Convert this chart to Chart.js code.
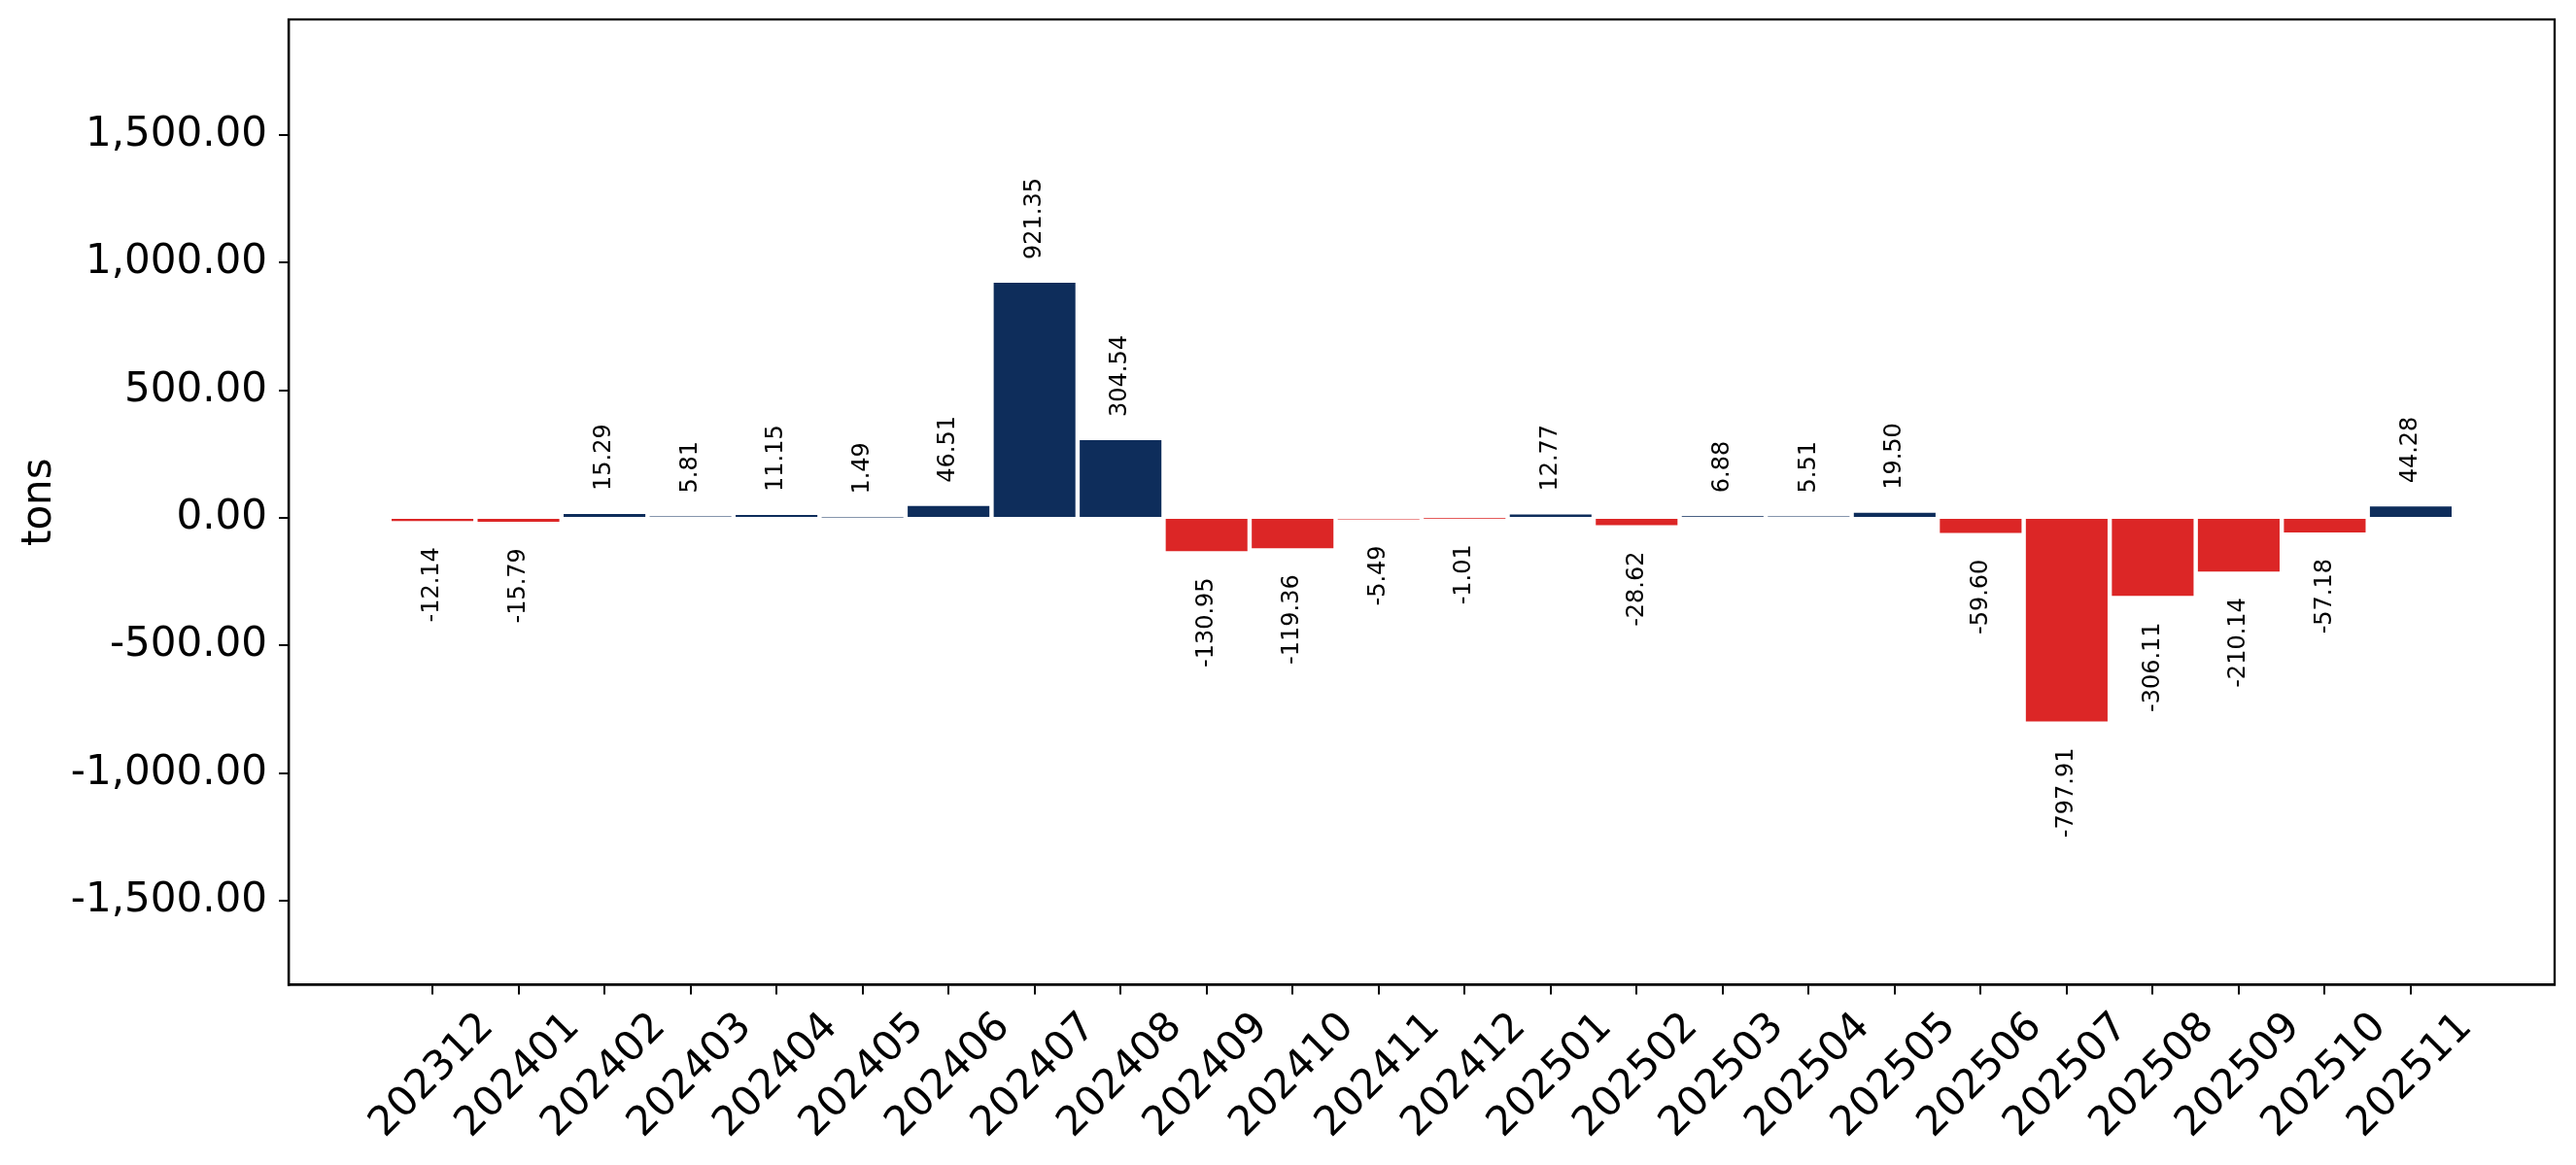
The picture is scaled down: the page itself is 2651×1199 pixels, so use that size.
<!DOCTYPE html>
<html>
<head>
<meta charset="utf-8">
<script src="https://cdn.jsdelivr.net/npm/chart.js@4.4.1/dist/chart.umd.min.js"></script>
<style>
  html, body { margin: 0; padding: 0; background: #ffffff; }
  canvas { display: block; }
</style>
</head>
<body>
<canvas id="chart" width="2651" height="1199"></canvas>
<script>
const months = ['202312', '202401', '202402', '202403', '202404', '202405', '202406', '202407',
  '202408', '202409', '202410', '202411', '202412', '202501', '202502', '202503', '202504',
  '202505', '202506', '202507', '202508', '202509', '202510', '202511'];
const changes = [-12.14, -15.79, 15.29, 5.81, 11.15, 1.49, 46.51, 921.35, 304.54, -130.95,
  -119.36, -5.49, -1.01, 12.77, -28.62, 6.88, 5.51, 19.50, -59.60, -797.91, -306.11,
  -210.14, -57.18, 44.28];
const yTicks = [-1500, -1000, -500, 0, 500, 1000, 1500];

const NAVY = '#0e2d5b';
const RED = '#dc2626';
const FONT = "'DejaVu Sans', sans-serif";
const TICK_SIZE = 42;

// matplotlib-like limits: 60% headroom on y, 5% margins on x
const lo = Math.min(...changes), hi = Math.max(...changes);
const span = hi - lo;
const yMin = lo - 0.6 * span;
const yMax = hi + 0.6 * span;
const half = 0.95 / 2;
const xPad = 0.05 * (months.length - 1 + 0.95);

const fmt = (v) => v.toLocaleString('en-US', { minimumFractionDigits: 2, maximumFractionDigits: 2 });

const framePlugin = {
  id: 'frame',
  afterDatasetsDraw(chart) {
    const ctx = chart.ctx;
    const meta = chart.getDatasetMeta(0);
    ctx.save();
    ctx.fillStyle = '#000000';
    ctx.font = `24px ${FONT}`;
    ctx.textBaseline = 'middle';
    meta.data.forEach((bar, i) => {
      const v = changes[i];
      ctx.save();
      if (v >= 0) {
        ctx.translate(bar.x, bar.y - 24);
        ctx.rotate(-Math.PI / 2);
        ctx.textAlign = 'left';
      } else {
        ctx.translate(bar.x, bar.y + 27);
        ctx.rotate(-Math.PI / 2);
        ctx.textAlign = 'right';
      }
      ctx.fillText(v.toFixed(2), 0, 0);
      ctx.restore();
    });
    ctx.restore();
  },
  afterDraw(chart) {
    const ctx = chart.ctx;
    const a = chart.chartArea;
    const xs = chart.scales.x;
    ctx.save();
    ctx.strokeStyle = '#000000';
    ctx.lineWidth = 2.3;
    ctx.strokeRect(a.left, a.top, a.right - a.left, a.bottom - a.top);

    // rotated, centred month labels
    ctx.fillStyle = '#000000';
    ctx.font = `${TICK_SIZE}px ${FONT}`;
    ctx.textAlign = 'center';
    ctx.textBaseline = 'middle';
    const top = a.bottom + 20;
    months.forEach((m, i) => {
      const x = xs.getPixelForValue(i);
      const w = ctx.measureText(m).width;
      const h = TICK_SIZE * 1.16;
      const box = (w + h) * Math.SQRT1_2;
      ctx.save();
      ctx.translate(x, top + box / 2);
      ctx.rotate(-Math.PI / 4);
      ctx.fillText(m, 0, 0);
      ctx.restore();
    });
    ctx.restore();
  }
};

new Chart(document.getElementById('chart').getContext('2d'), {
  type: 'bar',
  data: {
    datasets: [{
      data: changes.map((v, i) => ({ x: i, y: v })),
      backgroundColor: (c) => (c.raw && c.raw.y < 0 ? RED : NAVY),
      borderWidth: 0,
      barPercentage: 0.95,
      categoryPercentage: 1.0,
    }],
  },
  options: {
    responsive: false,
    animation: false,
    layout: { padding: { top: 20, right: 22, bottom: 0, left: 0 } },
    plugins: {
      legend: { display: false },
      tooltip: { enabled: false },
    },
    scales: {
      x: {
        type: 'linear',
        offset: false,
        min: -half - xPad,
        max: months.length - 1 + half + xPad,
        afterBuildTicks: (axis) => { axis.ticks = months.map((m, i) => ({ value: i })); },
        afterFit: (axis) => { axis.height = 185.5; axis.paddingLeft = 0; axis.paddingRight = 0; },
        ticks: { display: false },
        grid: { offset: false, drawOnChartArea: false, drawTicks: true, tickLength: 10, color: '#000000', lineWidth: 2 },
        border: { display: true, color: '#000000', width: 2.3 },
      },
      y: {
        min: yMin,
        max: yMax,
        afterBuildTicks: (axis) => { axis.ticks = yTicks.map((v) => ({ value: v })); },
        afterFit: (axis) => { axis.width = 297; axis.paddingTop = 0; axis.paddingBottom = 0; },
        ticks: {
          color: '#000000',
          font: { family: FONT, size: TICK_SIZE },
          padding: 12,
          callback: (v) => fmt(v),
        },
        grid: { drawOnChartArea: false, drawTicks: true, tickLength: 10, color: '#000000', lineWidth: 2 },
        border: { display: true, color: '#000000', width: 2.3 },
        title: {
          display: true,
          text: 'tons',
          color: '#000000',
          font: { family: FONT, size: TICK_SIZE },
          padding: { top: 16, bottom: 0 },
        },
      },
    },
  },
  plugins: [framePlugin],
});
</script>
</body>
</html>
